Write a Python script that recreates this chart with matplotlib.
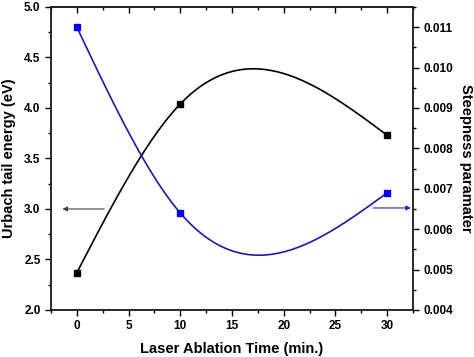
import numpy as np
import matplotlib
matplotlib.use("Agg")
from matplotlib import pyplot as plt
from matplotlib.ticker import MultipleLocator, FormatStrFormatter, NullFormatter

# data
time_min = [0, 10, 30]
urbach_ev = [2.37, 4.04, 3.73]
steepness = [0.0110, 0.0064, 0.0069]


def natural_spline(xs, ys, n=200):
    # natural cubic spline through the points (what Origin draws as "spline")
    xs = np.asarray(xs, float)
    ys = np.asarray(ys, float)
    k = len(xs)
    h = np.diff(xs)
    A = np.zeros((k, k))
    b = np.zeros(k)
    A[0, 0] = 1
    A[-1, -1] = 1
    for i in range(1, k - 1):
        A[i, i - 1] = h[i - 1]
        A[i, i] = 2 * (h[i - 1] + h[i])
        A[i, i + 1] = h[i]
        b[i] = 6 * ((ys[i + 1] - ys[i]) / h[i] - (ys[i] - ys[i - 1]) / h[i - 1])
    M = np.linalg.solve(A, b)
    xx = np.linspace(xs[0], xs[-1], n)
    yy = np.empty_like(xx)
    for j, x in enumerate(xx):
        i = min(np.searchsorted(xs, x, side="right") - 1, k - 2)
        a = xs[i + 1] - x
        c = x - xs[i]
        yy[j] = (M[i] * a**3 / (6 * h[i]) + M[i + 1] * c**3 / (6 * h[i])
                 + (ys[i] / h[i] - M[i] * h[i] / 6) * a
                 + (ys[i + 1] / h[i] - M[i + 1] * h[i] / 6) * c)
    return xx, yy


plt.rcParams["font.family"] = ["Liberation Sans", "DejaVu Sans"]
plt.rcParams["font.weight"] = "bold"

fig = plt.figure(figsize=(4.74, 3.57), dpi=100)
ax = fig.add_axes([0.1076, 0.1317, 0.7637, 0.8487])
ax2 = ax.twinx()

xs, ys = natural_spline(time_min, urbach_ev)
ax.plot(xs, ys, color="black", lw=1.2, zorder=2)
ax.plot(time_min, urbach_ev, "s", color="black", ms=5, zorder=3)

xs2, ys2 = natural_spline(time_min, steepness)
ax2.plot(xs2, ys2, color="#1c1ca0", lw=1.2, zorder=2)
ax2.plot(time_min, steepness, "s", color="#0000ee", ms=5, zorder=3)

# direction arrows
ax.annotate("", xy=(-1.4, 3.0), xytext=(2.65, 3.0),
            arrowprops=dict(arrowstyle="-|>", color="#444444", lw=0.8,
                            mutation_scale=7, shrinkA=0, shrinkB=0))
ax.annotate("", xy=(32.3, 3.01), xytext=(28.65, 3.01),
            arrowprops=dict(arrowstyle="-|>", color="#2a2ab0", lw=0.8,
                            mutation_scale=7, shrinkA=0, shrinkB=0))

ax.set_xlim(-2.5, 32.5)
ax.set_ylim(2.0, 5.0)
ax2.set_ylim(0.004, 0.0115)

ax.xaxis.set_major_locator(MultipleLocator(5))
ax.xaxis.set_minor_locator(MultipleLocator(2.5))
ax.yaxis.set_major_locator(MultipleLocator(0.5))
ax.yaxis.set_minor_locator(MultipleLocator(0.25))
ax2.yaxis.set_major_locator(MultipleLocator(0.001))
ax2.yaxis.set_minor_locator(MultipleLocator(0.0005))
ax2.yaxis.set_major_formatter(FormatStrFormatter("%.3f"))
ax.yaxis.set_major_formatter(FormatStrFormatter("%.1f"))

ax.tick_params(axis="both", which="major", direction="out", length=4, width=1,
               labelsize=8.5, top=False)
ax.tick_params(axis="both", which="minor", direction="out", length=2.5, width=1, top=False)
ax2.tick_params(axis="y", which="major", direction="out", length=4, width=1, labelsize=8.5)
ax2.tick_params(axis="y", which="minor", direction="out", length=2.5, width=1)

# ticks on the top spine point inward, no labels
top = ax.secondary_xaxis("top")
top.xaxis.set_major_locator(MultipleLocator(5))
top.xaxis.set_minor_locator(MultipleLocator(2.5))
top.xaxis.set_major_formatter(NullFormatter())
top.tick_params(which="major", direction="in", length=4, width=1)
top.tick_params(which="minor", direction="in", length=2.5, width=1)
top.spines["top"].set_linewidth(1.1)
top.spines["top"].set_color("#222222")

for lab in ax.get_xticklabels() + ax.get_yticklabels() + ax2.get_yticklabels():
    lab.set_fontweight("bold")

for sp in list(ax.spines.values()) + list(ax2.spines.values()):
    sp.set_linewidth(1.1)
    sp.set_color("#222222")

ax.set_xlabel("Laser Ablation Time (min.)", fontsize=10.5, fontweight="bold", labelpad=7)
ax.set_ylabel("Urbach tail energy (eV)", fontsize=10.5, fontweight="bold", labelpad=6)
ax2.set_ylabel("Steepness paramater", fontsize=10.5, fontweight="bold",
               rotation=270, labelpad=14)

fig.savefig("out.png", dpi=100)
